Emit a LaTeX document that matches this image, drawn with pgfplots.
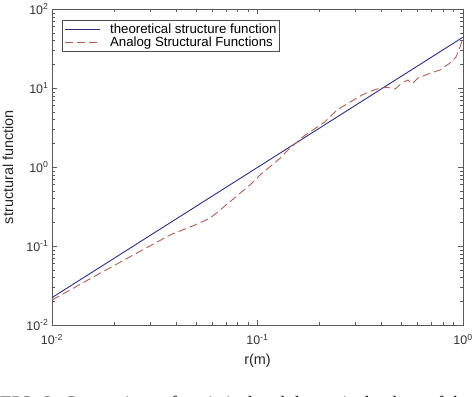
\documentclass[border=0pt]{standalone}
\usepackage{pgfplots}
\pgfplotsset{compat=1.18}
\usepackage{fontspec}
\setmainfont{Liberation Sans}
\newfontfamily\capfont{Liberation Serif}
\definecolor{theo}{RGB}{45,45,130}
\definecolor{anal}{RGB}{175,95,85}
\begin{document}
\begin{tikzpicture}
\begin{axis}[
  at={(52bp,-9bp)}, anchor=north west,
  width=411bp, height=316bp, scale only axis,
  xmode=log, ymode=log,
  xmin=0.01, xmax=1, ymin=0.01, ymax=100,
  xtick={0.01,0.1,1},
  xticklabels={10\textsuperscript{-2},10\textsuperscript{-1},10\textsuperscript{0}},
  ytick={0.01,0.1,1,10,100},
  yticklabels={10\textsuperscript{-2},10\textsuperscript{-1},10\textsuperscript{0},10\textsuperscript{1},10\textsuperscript{2}},
  tick label style={font=\fontsize{12.5}{14}\selectfont, black!80},
  xticklabel style={yshift=-6bp},
  label style={font=\fontsize{14.5}{17}\selectfont, black!85},
  xlabel={r(m)}, ylabel={structural function},
  xlabel style={at={(axis description cs:0.5,0)}, anchor=center, yshift=-36bp},
  ylabel style={at={(axis description cs:0,0.5)}, anchor=center, yshift=44bp},
  axis line style={black!65}, tick style={black!65},
  major tick length=5bp, minor tick length=3bp,
  tick align=inside, xtick pos=both, ytick pos=both,
  legend cell align=left,
  legend style={at={(0,1)}, anchor=north west, xshift=10bp, yshift=-11bp,
    draw=black!70, font=\fontsize{13.3}{15}\selectfont,
    inner xsep=2.5bp, inner ysep=3.5bp, row sep=2bp, column sep=0bp,
    nodes={inner sep=0pt}},
  legend image code/.code={\draw[#1] (1.5bp,0bp) -- (36.5bp,0bp);},
]
\addplot[theo, line width=0.9bp] coordinates {(0.01,0.0222) (1,44)};
\addlegendentry{\hspace*{9.5bp}theoretical structure function}
\addplot[anal, line width=0.9bp, dash pattern=on 8bp off 4bp] coordinates {
(0.01,0.0207)
(0.01531,0.0384)
(0.0240,0.0732)
(0.0375,0.1377)
(0.0497,0.1845)
(0.0587,0.2242)
(0.0657,0.2856)
(0.0735,0.3637)
(0.0822,0.4646)
(0.0919,0.5918)
(0.1028,0.792)
(0.1150,1.009)
(0.1287,1.289)
(0.1407,1.641)
(0.1665,2.418)
(0.1863,2.941)
(0.2131,3.745)
(0.2437,5.266)
(0.2757,6.402)
(0.3226,8.155)
(0.3527,9.03)
(0.3946,10.0)
(0.4315,10.15)
(0.4668,9.71)
(0.5048,11.57)
(0.5399,12.63)
(0.5647,11.23)
(0.6039,13.39)
(0.6755,15.04)
(0.7727,16.90)
(0.8644,20.72)
(0.9244,24.69)
(0.9669,33.04)
(1.0,42.96)
};
\addlegendentry{\hspace*{9.5bp}Analog Structural Functions}
\end{axis}
\node[anchor=base west, inner sep=0pt, font=\capfont\fontsize{19}{22}\selectfont] at (0bp,-409bp) {\textbf{FIG. 3.} Comparison of statistical and theoretical values of the};
\pgfresetboundingbox
\path[use as bounding box] (0bp,0bp) rectangle (474bp,-397bp);
\end{tikzpicture}
\end{document}
